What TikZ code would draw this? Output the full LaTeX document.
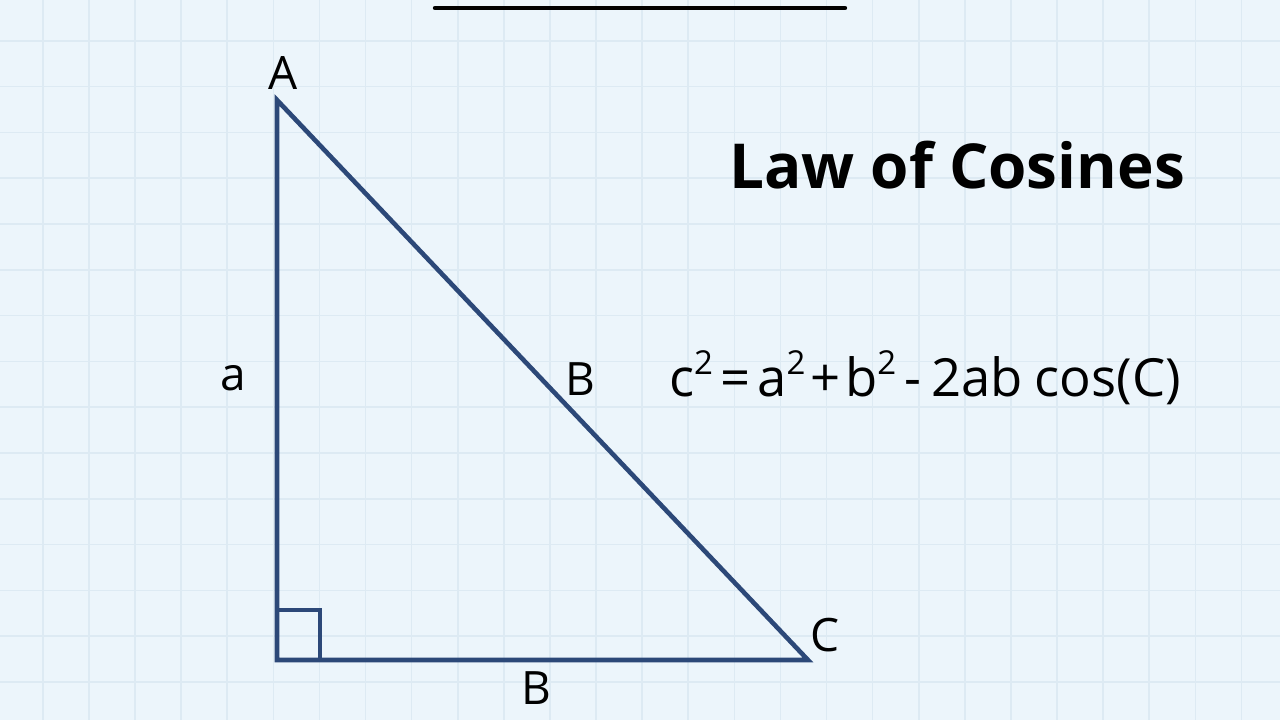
\documentclass[tikz,border=0pt]{standalone}
\usepackage{fontspec}
\setmainfont{Open Sans}
\definecolor{bgcol}{HTML}{ECF5FB}
\definecolor{gridcol}{HTML}{DDEAF3}
\definecolor{navy}{HTML}{2C4878}
\newcommand{\sqr}{\raisebox{0.42em}{\fontsize{16.5}{20}\selectfont 2}}
\tikzset{
  gridline/.style={draw=gridcol, line width=0.8pt},
  side/.style={draw=navy, line width=2.3pt, line join=miter},
  vlabel/.style={inner sep=0pt, font=\fontsize{23}{26}\selectfont},
  titletext/.style={inner sep=0pt, font=\fontsize{31}{36}\selectfont\bfseries},
  formula/.style={inner sep=0pt, font=\fontsize{26.3}{32}\selectfont},
}
\begin{document}
\begin{tikzpicture}[x=0.5pt,y=-0.5pt]
\fill[bgcol] (0,0) rectangle (1280,720);
\useasboundingbox (0,0) rectangle (1280,720);
\foreach \i in {0,...,28} {\draw[gridline] (-3.3+46.1*\i,0) -- (-3.3+46.1*\i,720);}
\foreach \j in {0,...,16} {\draw[gridline] (0,682-45.8*\j) -- (1280,682-45.8*\j);}
% top rule
\coordinate (r1) at (435,8);
\coordinate (r2) at (845,8);
\draw[line width=2.2pt, line cap=round] (r1) -- (r2);
% triangle
\coordinate (A) at (277,100);
\coordinate (R) at (277,660);
\coordinate (C) at (808,660);
\draw[side] (A) -- (R) -- (C) -- cycle;
\coordinate (s1) at (277,610);
\coordinate (s2) at (320,610);
\coordinate (s3) at (320,660);
\draw[side, line width=2pt] (s1) -- (s2) -- (s3);
% labels
\node[vlabel] (lA) at (283,73) {A};
\node[vlabel] (la) at (233,378) {a};
\node[vlabel] (lB1) at (580,379) {B};
\node[vlabel] (lB2) at (536,688) {B};
\node[vlabel] (lC) at (825,635) {C};
\node[titletext] (title) at (957,165) {Law of Cosines};
\node[formula] (eq) at (925,378) {c\sqr\hspace{0.15em}=\hspace{0.12em}a\sqr\hspace{0.1em}+\hspace{0.08em}b\sqr\hspace{0.15em}-\hspace{0.2em}2ab\hspace{0.22em}cos(C)};
\end{tikzpicture}
\end{document}
